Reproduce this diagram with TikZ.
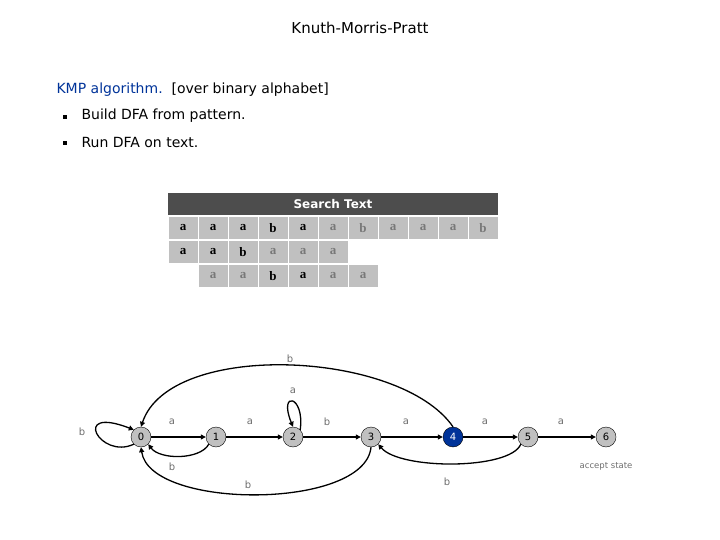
\documentclass[tikz,border=0pt]{standalone}
\usepackage{fontspec}
\setmainfont{DejaVu Sans}
\newfontfamily\cellfont{Liberation Serif}
\usetikzlibrary{arrows.meta}
\definecolor{kblue}{RGB}{0,51,153}
\definecolor{cellg}{RGB}{192,192,192}
\definecolor{hdr}{RGB}{77,77,77}
\definecolor{txg}{RGB}{120,120,120}
\definecolor{lbl}{RGB}{110,110,110}
\begin{document}
\begin{tikzpicture}[x=1pt,y=-1pt,
  state/.style={circle,draw=black,fill=cellg,minimum size=20pt,inner sep=0pt,font=\fontsize{10}{12}\selectfont},
  edge/.style={-{Triangle[length=5pt,width=5pt]},line width=1.3pt},
  elab/.style={text=lbl,font=\fontsize{10}{12}\selectfont},
  cell/.style={fill=cellg,draw=white,line width=1pt,minimum width=30pt,minimum height=23pt,inner sep=0pt,font=\cellfont\fontsize{13}{15}\bfseries\selectfont},
  bul/.style={fill=black,minimum size=3.5pt,inner sep=0pt}]
\useasboundingbox (0,0) rectangle (720,540);
\node (title) at (360,28) {\fontsize{15}{18}\selectfont Knuth-Morris-Pratt};
\node[anchor=west] (l1) at (53,90) {\fontsize{14}{17}\selectfont\textcolor{kblue}{KMP algorithm.}\ \ [over binary alphabet]};
\node[bul] (b1) at (65,117) {};
\node[anchor=west] (l2) at (78,116) {\fontsize{14}{17}\selectfont Build DFA from pattern.};
\node[bul] (b2) at (65,143) {};
\node[anchor=west] (l3) at (78,142) {\fontsize{14}{17}\selectfont Run DFA on text.};
% table
\node[fill=hdr,minimum width=330pt,minimum height=22pt,inner sep=0pt,text=white] (hd) at (333,204) {\fontsize{12}{14}\bfseries\selectfont Search Text};
\foreach \c [count=\i] in {a,a,a,b,a} \node[cell] (r1c\i) at (153+30*\i,228) {\c};
\foreach \c [count=\i from 6] in {a,b,a,a,a,b} \node[cell,text=txg] (r1c\i) at (153+30*\i,228) {\c};
\foreach \c [count=\i] in {a,a,b} \node[cell] (r2c\i) at (153+30*\i,252) {\c};
\foreach \c [count=\i from 4] in {a,a,a} \node[cell,text=txg] (r2c\i) at (153+30*\i,252) {\c};
\node[cell,text=txg] (r3c2) at (213,276) {a};
\node[cell,text=txg] (r3c3) at (243,276) {a};
\node[cell] (r3c4) at (273,276) {b};
\node[cell] (r3c5) at (303,276) {a};
\node[cell,text=txg] (r3c6) at (333,276) {a};
\node[cell,text=txg] (r3c7) at (363,276) {a};
% DFA
\node[state] (s0) at (141,437) {0};
\node[state] (s1) at (216,437) {1};
\node[state] (s2) at (293,437) {2};
\node[state] (s3) at (371,437) {3};
\node[state,fill=kblue,text=white] (s4) at (453,437) {4};
\node[state] (s5) at (528,437) {5};
\node[state] (s6) at (606,437) {6};
\draw[edge] (s0) -- (s1);
\draw[edge] (s1) -- (s2);
\draw[edge] (s2) -- (s3);
\draw[edge] (s3) -- (s4);
\draw[edge] (s4) -- (s5);
\draw[edge] (s5) -- (s6);
\draw[edge] (s0.south west) .. controls (100,460) and (70,405) .. (s0.north west);
\draw[edge] (s1.south west) .. controls (200,460) and (160,460) .. (s0.south east);
\draw[edge] (s2.north east) .. controls (305,395) and (278,390) .. (s2.north);
\draw[edge] (s3.south) .. controls (365,510) and (150,510) .. (s0.south);
\draw[edge] (s4.north) .. controls (400,350) and (170,340) .. (s0.north);
\draw[edge] (s5.south west) .. controls (510,470) and (400,470) .. (s3.south east);
\node[elab] (lb0) at (82,432) {b};
\node[elab] (la01) at (172,422) {a};
\node[elab] (la12) at (250,422) {a};
\node[elab] (lb23) at (327,422) {b};
\node[elab] (la34) at (406,422) {a};
\node[elab] (la45) at (485,422) {a};
\node[elab] (la56) at (561,422) {a};
\node[elab] (lb10) at (172,467) {b};
\node[elab] (la22) at (293,391) {a};
\node[elab] (lb30) at (248,485) {b};
\node[elab] (lb40) at (290,359) {b};
\node[elab] (lb53) at (447,482) {b};
\node[elab,font=\fontsize{8.5}{10}\selectfont] (acc) at (606,466) {accept state};
\end{tikzpicture}
\end{document}
